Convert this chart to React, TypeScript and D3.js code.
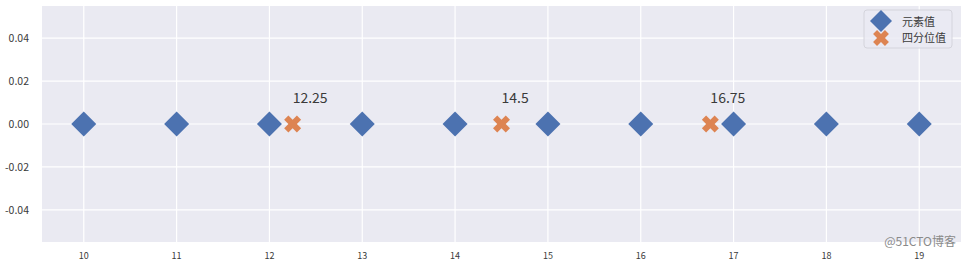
import React from "react";
import * as d3 from "d3";

const elements = [10, 11, 12, 13, 14, 15, 16, 17, 18, 19];
const elementY = [0, 0, 0, 0, 0, 0, 0, 0, 0, 0];
const quartiles = [12.25, 14.5, 16.75];
const quartileLabels = ["12.25", "14.5", "16.75"];
const xTicks = [10, 11, 12, 13, 14, 15, 16, 17, 18, 19];
const yTicks = [0.04, 0.02, 0.0, -0.02, -0.04];
const legendLabels = ["元素值", "四分位值"];

const W = 964;
const H = 262;
const FONT = "'Noto Sans CJK SC', 'DejaVu Sans', sans-serif";

export default function App() {
  const left = 42, right = 961, top = 6, bottom = 242;
  const x = d3.scaleLinear().domain([9.55, 19.45]).range([left, right]);
  const y = d3.scaleLinear().domain([-0.055, 0.055]).range([bottom, top]);

  const diamond = (cx: number, cy: number, r: number) =>
    `M${cx},${cy - r}L${cx + r},${cy}L${cx},${cy + r}L${cx - r},${cy}Z`;

  const plusPts = [
    [-1, -3], [1, -3], [1, -1], [3, -1], [3, 1], [1, 1],
    [1, 3], [-1, 3], [-1, 1], [-3, 1], [-3, -1], [-1, -1],
  ];
  const xMarker = (cx: number, cy: number, u: number) => {
    const c = Math.SQRT1_2;
    const pts = plusPts.map(([a, b]) => [cx + (a * c - b * c) * u, cy + (a * c + b * c) * u]);
    return d3.line()(pts as [number, number][]) + "Z";
  };

  const blue = "#4C72B0";
  const orange = "#DD8452";
  const textColor = "#3a3a3a";

  return (
    <svg width={W} height={H} style={{ position: "absolute", left: 0, top: 0, background: "#fff" }}>
      <rect x={left} y={top} width={right - left} height={bottom - top} fill="#EAEAF2" />
      {xTicks.map((t) => (
        <line key={"gx" + t} x1={x(t)} x2={x(t)} y1={top} y2={bottom} stroke="#fff" strokeWidth={1.2} />
      ))}
      {yTicks.map((t) => (
        <line key={"gy" + t} x1={left} x2={right} y1={y(t)} y2={y(t)} stroke="#fff" strokeWidth={1.2} />
      ))}
      {yTicks.map((t) => (
        <text key={"ty" + t} x={29} y={y(t) + 4} textAnchor="end" fontSize={10.5} fill={textColor} fontFamily={FONT}>
          {t.toFixed(2)}
        </text>
      ))}
      {xTicks.map((t) => (
        <text key={"tx" + t} x={x(t)} y={259} textAnchor="middle" fontSize={9} fill={textColor} fontFamily={FONT}>
          {t}
        </text>
      ))}
      {quartiles.map((q, i) => (
        <path key={"q" + i} d={xMarker(x(q), y(0), 3)} fill={orange} />
      ))}
      {elements.map((e, i) => (
        <path key={"e" + i} d={diamond(x(e), y(elementY[i]), 12.5)} fill={blue} />
      ))}
      {quartiles.map((q, i) => (
        <text key={"ql" + i} x={x(q)} y={y(0.01) + 0.5} fontSize={14} fill={textColor} fontFamily={FONT}>
          {quartileLabels[i]}
        </text>
      ))}
      <g>
        <rect x={864} y={10} width={88} height={38} rx={3} fill="#EAEAF2" fillOpacity={0.8} stroke="#d4d4dc" strokeWidth={1} />
        <path d={diamond(881, 21, 11)} fill={blue} />
        <path d={xMarker(881, 38, 2.8)} fill={orange} />
        <text x={902} y={26} fontSize={11} fill={textColor} fontFamily={FONT}>{legendLabels[0]}</text>
        <text x={902} y={42} fontSize={11} fill={textColor} fontFamily={FONT}>{legendLabels[1]}</text>
      </g>
      <text x={956} y={246} textAnchor="end" fontSize={12} fill="#8a8a8a" fontFamily={FONT}>@51CTO博客</text>
    </svg>
  );
}
